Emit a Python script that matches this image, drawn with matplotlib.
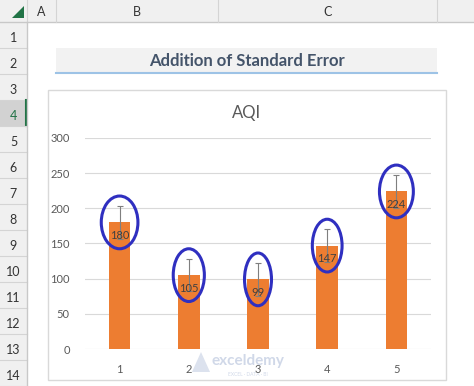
import matplotlib.pyplot as plt
from matplotlib.patches import Rectangle, Ellipse, Polygon

categories = [1, 2, 3, 4, 5]
aqi = [180, 105, 99, 147, 224]
std_err = [23, 23, 23, 23, 23]
y_ticks = [0, 50, 100, 150, 200, 250, 300]
col_letters = ['A', 'B', 'C']
row_numbers = list(range(1, 15))

plt.rcParams['font.family'] = ['Lato', 'DejaVu Sans']

W, H = 474, 386
fig = plt.figure(figsize=(W / 100, H / 100), dpi=100)
fig.patch.set_facecolor('white')

# sheet drawn in pixel coordinates
bg = fig.add_axes([0, 0, 1, 1])
bg.set_xlim(0, W)
bg.set_ylim(H, 0)
bg.axis('off')

hdr_h = 22
row_w = 27
row_h = 26
col_edges = [row_w, 56, 218, 437, W]
grid_c = '#d4d4d4'

# column header strip
bg.add_patch(Rectangle((0, 0), W, hdr_h, fc='#f0f0f0', ec='none'))
bg.plot([0, W], [hdr_h, hdr_h], color='#c8c8c8', lw=1)
for x in col_edges[:-1]:
    bg.plot([x, x], [0, hdr_h], color=grid_c, lw=0.8)
bg.add_patch(Polygon([[12, 18], [24, 18], [24, 6]], closed=True, fc='#217346', ec='none'))
for i, letter in enumerate(col_letters):
    cx = (col_edges[i] + col_edges[i + 1]) / 2
    bg.text(cx, 12, letter, ha='center', va='center', fontsize=9, color='#333333')

# row header strip
bg.add_patch(Rectangle((0, hdr_h), row_w, H - hdr_h, fc='#f0f0f0', ec='none'))
for r in row_numbers:
    top = hdr_h + (r - 1) * row_h
    if r == 4:
        bg.add_patch(Rectangle((0, top), row_w, row_h, fc='#d2d2d2', ec='none'))
        bg.plot([row_w - 1, row_w - 1], [top, top + row_h], color='#217346', lw=1.5)
    bg.plot([0, row_w], [top + row_h, top + row_h], color=grid_c, lw=0.8)
    bg.text(row_w / 2, top + row_h / 2 + 3, str(r), ha='center', va='center',
            fontsize=9, color='#333333' if r != 4 else '#217346')
bg.plot([row_w, row_w], [hdr_h, H], color='#c8c8c8', lw=1)

# heading cell B2:C2
bg.add_patch(Rectangle((56, 48), 381, 26, fc='#f2f2f2', ec='none'))
bg.plot([56, 437], [73, 73], color='#9dc3e6', lw=1.5)
bg.text(246.5, 61, 'Addition of Standard Error', ha='center', va='center',
        fontsize=12, fontweight='bold', color='#44546a')

# chart area
bg.add_patch(Rectangle((48, 90), 398, 290, fc='white', ec='#d9d9d9', lw=1))
bg.text(247, 113, 'AQI', ha='center', va='center', fontsize=12, color='#595959')

# watermark
bg.text(248, 361, 'exceldemy', ha='center', va='center', fontsize=11,
        fontweight='bold', color='#c5cfe3', alpha=0.8, zorder=5)
bg.text(248, 374, 'EXCEL · DATA · BI', ha='center', va='center', fontsize=3.5,
        color='#c5cfe3', alpha=0.8, zorder=5)
bg.add_patch(Polygon([[192, 372], [201, 352], [210, 372]], closed=True,
                     fc='#c5cfe3', ec='none', alpha=0.6, zorder=5))

# plot area
ax = fig.add_axes([85 / W, 1 - 349 / H, 346 / W, 211 / H])
ax.set_facecolor('none')
bars = ax.bar(categories, aqi, width=0.31, color='#ed7d31', zorder=2)
ax.errorbar(categories, aqi, yerr=std_err, fmt='none', ecolor='#7f7f7f',
            elinewidth=0.8, capsize=2.5, capthick=0.8, zorder=3)
for x, v in zip(categories, aqi):
    ax.text(x, v - 19, str(v), ha='center', va='center', fontsize=8,
            color='#404040', zorder=4)

ell_w = [0.53, 0.45, 0.39, 0.43, 0.49]
for x, v, w in zip(categories, aqi, ell_w):
    ax.add_patch(Ellipse((x, v), w, 75, fill=False, ec='#2f2fc0', lw=2.2, zorder=5))

ax.set_xlim(0.5, 5.5)
ax.set_ylim(0, 300)
ax.set_yticks(y_ticks)
ax.set_xticks(categories)
ax.grid(axis='y', color='#d9d9d9', lw=0.8, zorder=0)
for s in ax.spines.values():
    s.set_visible(False)
ax.tick_params(length=0, labelsize=8, colors='#595959')
ax.tick_params(axis='y', pad=11)
ax.tick_params(axis='x', pad=11)

fig.savefig('out.png', dpi=100)
